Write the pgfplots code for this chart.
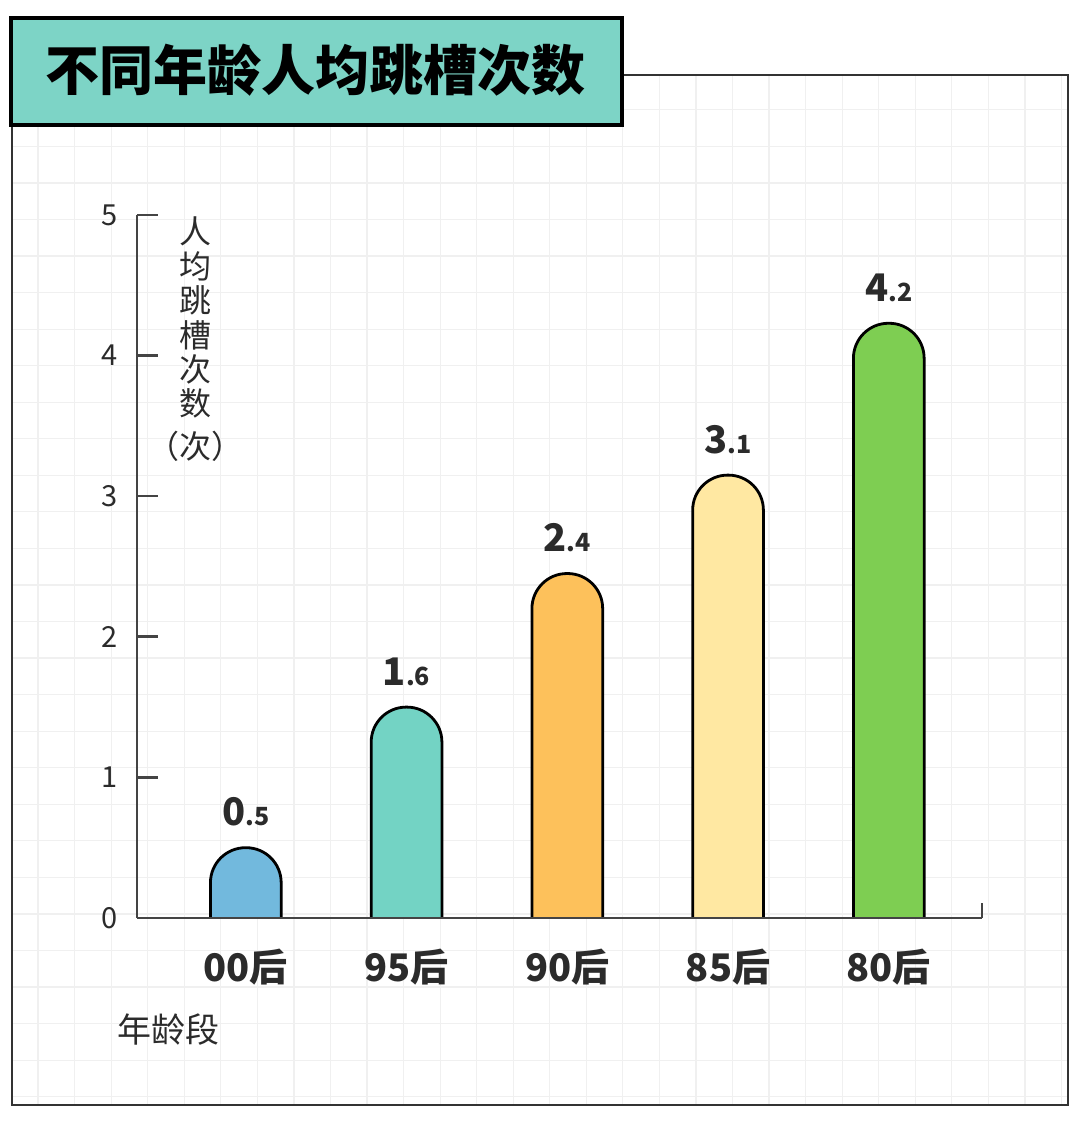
\documentclass[border=0pt]{standalone}
\usepackage{pgfplots}
\pgfplotsset{compat=1.18}
\usepackage{fontspec}
\setmainfont{Noto Sans CJK SC}

\definecolor{titlecol}{HTML}{7DD4C6}
\definecolor{gridcol}{HTML}{F0F0F0}
\definecolor{framecol}{HTML}{333333}
\definecolor{axiscol}{HTML}{444444}
\definecolor{textcol}{HTML}{2B2B2B}
\definecolor{cA}{HTML}{72B9DD}
\definecolor{cB}{HTML}{73D3C4}
\definecolor{cC}{HTML}{FDC15B}
\definecolor{cD}{HTML}{FFE8A2}
\definecolor{cE}{HTML}{7ECE52}

\newcommand{\vlab}[2]{{\fontsize{19}{20}\selectfont\bfseries #1}{\fontsize{12.5}{14}\selectfont\bfseries .#2}}

\begin{document}
\begin{tikzpicture}
\useasboundingbox (0,0) rectangle (540pt,562pt);
% background grid
\begin{scope}
  \clip (6pt,9.5pt) rectangle (534pt,524.5pt);
  \draw[gridcol, line width=0.6pt, shift={(0.75pt,13.65pt)}]
    (-18.275pt,-18.275pt) grid[step=18.275pt] (548.25pt,566pt);
\end{scope}
% frame
\draw[framecol, line width=1.1pt] (311pt,524.5pt) -- (534pt,524.5pt) -- (534pt,9.5pt) -- (6pt,9.5pt) -- (6pt,499.5pt);
% title box
\draw[fill=titlecol, line width=1.6pt] (5.5pt,499.5pt) rectangle (311pt,553pt);
\node[font=\fontsize{27}{30}\selectfont\bfseries, text=black] at (158pt,527pt) {不同年龄人均跳槽次数};

\begin{axis}[
  at={(68.5pt,103pt)}, anchor=south west,
  scale only axis, width=422.5pt, height=351.5pt,
  xmin=-0.677, xmax=4.58, ymin=0, ymax=5,
  axis x line*=bottom, axis y line*=left,
  axis line style={-, draw=axiscol, line width=1.4pt},
  every outer x axis line/.append style={-},
  every outer y axis line/.append style={-},
  axis on top, clip=false,
  ytick={0,1,...,5},
  tick align=inside, major tick length=10.5pt,
  y tick style={draw=axiscol, line width=1.3pt},
  xtick={0,1,2,3,4},
  xticklabels={00后,95后,90后,85后,80后},
  x tick style={draw=none},
  /pgf/number format/assume math mode=true,
  yticklabel style={font=\fontsize{14.5}{16}\selectfont, text=textcol, xshift=-6pt},
  xticklabel style={font=\fontsize{19}{21}\selectfont\bfseries, text=textcol, anchor=base, yshift=-32pt},
]
\addplot[fill=cA, draw=black, line width=1.4pt, rounded corners=17.5pt, mark=none]
  coordinates {(-0.22,0) (-0.22,0.5) (0.22,0.5) (0.22,0)};
\addplot[fill=cB, draw=black, line width=1.4pt, rounded corners=17.5pt, mark=none]
  coordinates {(0.78,0) (0.78,1.5) (1.22,1.5) (1.22,0)};
\addplot[fill=cC, draw=black, line width=1.4pt, rounded corners=17.5pt, mark=none]
  coordinates {(1.78,0) (1.78,2.45) (2.22,2.45) (2.22,0)};
\addplot[fill=cD, draw=black, line width=1.4pt, rounded corners=17.5pt, mark=none]
  coordinates {(2.78,0) (2.78,3.15) (3.22,3.15) (3.22,0)};
\addplot[fill=cE, draw=black, line width=1.4pt, rounded corners=17.5pt, mark=none]
  coordinates {(3.78,0) (3.78,4.23) (4.22,4.23) (4.22,0)};

\node[anchor=base, text=textcol, inner sep=0pt, yshift=11pt] at (axis cs:0,0.5) {\vlab{0}{5}};
\node[anchor=base, text=textcol, inner sep=0pt, yshift=11pt] at (axis cs:1,1.5) {\vlab{1}{6}};
\node[anchor=base, text=textcol, inner sep=0pt, yshift=11pt] at (axis cs:2,2.45) {\vlab{2}{4}};
\node[anchor=base, text=textcol, inner sep=0pt, yshift=11pt] at (axis cs:3,3.15) {\vlab{3}{1}};
\node[anchor=base, text=textcol, inner sep=0pt, yshift=11pt] at (axis cs:4,4.23) {\vlab{4}{2}};

\draw[axiscol, line width=1.3pt] (axis cs:4.58,0) -- ([yshift=7.5pt]axis cs:4.58,0);
\end{axis}

\node[anchor=north, align=center, font=\fontsize{16}{17.2}\selectfont, text=textcol] at (97.5pt,457pt)
  {人\\均\\跳\\槽\\次\\数\\[4pt]（次）};
\node[font=\fontsize{17}{19}\selectfont, text=textcol] at (84pt,47pt) {年龄段};
\end{tikzpicture}
\end{document}
